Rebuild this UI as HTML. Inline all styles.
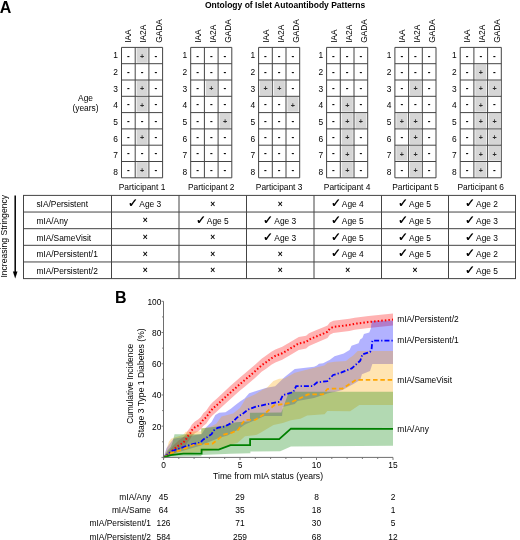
<!DOCTYPE html>
<html><head><meta charset="utf-8"><title>Islet Autoantibody Patterns</title><style>html,body{margin:0;padding:0;background:#fff;overflow:hidden}svg{display:block}</style></head><body>
<svg width="520" height="540" viewBox="0 0 520 540" font-family='"Liberation Sans", Arial, Helvetica, sans-serif'>
<rect width="520" height="540" fill="#fff"/>
<text x="-0.2" y="13.2" font-size="16" font-weight="bold">A</text>
<text x="114.9" y="302.8" font-size="16" font-weight="bold">B</text>
<text x="285.1" y="7.5" font-size="8.5" font-weight="bold" text-anchor="middle">Ontology of Islet Autoantibody Patterns</text>
<rect x="136.60" y="129.50" width="11.10" height="14.80" fill="#d6d6d6"/>
<rect x="136.60" y="48.00" width="11.10" height="14.80" fill="#d6d6d6"/>
<rect x="136.60" y="162.10" width="11.10" height="14.80" fill="#d6d6d6"/>
<rect x="136.60" y="80.60" width="11.10" height="14.80" fill="#d6d6d6"/>
<rect x="136.60" y="96.90" width="11.10" height="14.80" fill="#d6d6d6"/>
<line x1="121.50" y1="47.40" x2="121.50" y2="177.80" stroke="#444" stroke-width="1"/>
<line x1="135.20" y1="47.40" x2="135.20" y2="177.80" stroke="#444" stroke-width="1"/>
<line x1="148.90" y1="47.40" x2="148.90" y2="177.80" stroke="#444" stroke-width="1"/>
<line x1="162.60" y1="47.40" x2="162.60" y2="177.80" stroke="#444" stroke-width="1"/>
<line x1="121.50" y1="47.40" x2="162.60" y2="47.40" stroke="#444" stroke-width="1"/>
<line x1="121.50" y1="63.70" x2="162.60" y2="63.70" stroke="#444" stroke-width="1"/>
<line x1="121.50" y1="80.00" x2="162.60" y2="80.00" stroke="#444" stroke-width="1"/>
<line x1="121.50" y1="96.30" x2="162.60" y2="96.30" stroke="#444" stroke-width="1"/>
<line x1="121.50" y1="112.60" x2="162.60" y2="112.60" stroke="#444" stroke-width="1"/>
<line x1="121.50" y1="128.90" x2="162.60" y2="128.90" stroke="#444" stroke-width="1"/>
<line x1="121.50" y1="145.20" x2="162.60" y2="145.20" stroke="#444" stroke-width="1"/>
<line x1="121.50" y1="161.50" x2="162.60" y2="161.50" stroke="#444" stroke-width="1"/>
<line x1="121.50" y1="177.80" x2="162.60" y2="177.80" stroke="#444" stroke-width="1"/>
<text x="128.35" y="58.55" font-size="8.2" font-weight="bold" text-anchor="middle">-</text>
<text x="128.35" y="74.85" font-size="8.2" font-weight="bold" text-anchor="middle">-</text>
<text x="128.35" y="91.15" font-size="8.2" font-weight="bold" text-anchor="middle">-</text>
<text x="128.35" y="107.45" font-size="8.2" font-weight="bold" text-anchor="middle">-</text>
<text x="128.35" y="123.75" font-size="8.2" font-weight="bold" text-anchor="middle">-</text>
<text x="128.35" y="140.05" font-size="8.2" font-weight="bold" text-anchor="middle">-</text>
<text x="128.35" y="156.35" font-size="8.2" font-weight="bold" text-anchor="middle">-</text>
<text x="128.35" y="172.65" font-size="8.2" font-weight="bold" text-anchor="middle">-</text>
<text x="142.15" y="58.70" font-size="7.2" font-weight="bold" fill="#2a2a2a" text-anchor="middle">+</text>
<text x="142.05" y="74.85" font-size="8.2" font-weight="bold" text-anchor="middle">-</text>
<text x="142.15" y="91.30" font-size="7.2" font-weight="bold" fill="#2a2a2a" text-anchor="middle">+</text>
<text x="142.15" y="107.60" font-size="7.2" font-weight="bold" fill="#2a2a2a" text-anchor="middle">+</text>
<text x="142.05" y="123.75" font-size="8.2" font-weight="bold" text-anchor="middle">-</text>
<text x="142.15" y="140.20" font-size="7.2" font-weight="bold" fill="#2a2a2a" text-anchor="middle">+</text>
<text x="142.05" y="156.35" font-size="8.2" font-weight="bold" text-anchor="middle">-</text>
<text x="142.15" y="172.80" font-size="7.2" font-weight="bold" fill="#2a2a2a" text-anchor="middle">+</text>
<text x="155.75" y="58.55" font-size="8.2" font-weight="bold" text-anchor="middle">-</text>
<text x="155.75" y="74.85" font-size="8.2" font-weight="bold" text-anchor="middle">-</text>
<text x="155.75" y="91.15" font-size="8.2" font-weight="bold" text-anchor="middle">-</text>
<text x="155.75" y="107.45" font-size="8.2" font-weight="bold" text-anchor="middle">-</text>
<text x="155.75" y="123.75" font-size="8.2" font-weight="bold" text-anchor="middle">-</text>
<text x="155.75" y="140.05" font-size="8.2" font-weight="bold" text-anchor="middle">-</text>
<text x="155.75" y="156.35" font-size="8.2" font-weight="bold" text-anchor="middle">-</text>
<text x="155.75" y="172.65" font-size="8.2" font-weight="bold" text-anchor="middle">-</text>
<text x="118.00" y="58.40" font-size="8.4" text-anchor="end">1</text>
<text x="118.00" y="75.06" font-size="8.4" text-anchor="end">2</text>
<text x="118.00" y="91.72" font-size="8.4" text-anchor="end">3</text>
<text x="118.00" y="108.38" font-size="8.4" text-anchor="end">4</text>
<text x="118.00" y="125.04" font-size="8.4" text-anchor="end">5</text>
<text x="118.00" y="141.70" font-size="8.4" text-anchor="end">6</text>
<text x="118.00" y="158.36" font-size="8.4" text-anchor="end">7</text>
<text x="118.00" y="175.02" font-size="8.4" text-anchor="end">8</text>
<text transform="translate(131.40,42.80) rotate(-90)" font-size="8.4">IAA</text>
<text transform="translate(146.40,42.80) rotate(-90)" font-size="8.4">IA2A</text>
<text transform="translate(161.70,42.80) rotate(-90)" font-size="8.4">GADA</text>
<text x="142.05" y="190.00" font-size="8.4" text-anchor="middle">Participant 1</text>
<rect x="219.50" y="113.20" width="11.10" height="14.80" fill="#d6d6d6"/>
<rect x="205.80" y="80.60" width="11.10" height="14.80" fill="#d6d6d6"/>
<line x1="190.70" y1="47.40" x2="190.70" y2="177.80" stroke="#444" stroke-width="1"/>
<line x1="204.40" y1="47.40" x2="204.40" y2="177.80" stroke="#444" stroke-width="1"/>
<line x1="218.10" y1="47.40" x2="218.10" y2="177.80" stroke="#444" stroke-width="1"/>
<line x1="231.80" y1="47.40" x2="231.80" y2="177.80" stroke="#444" stroke-width="1"/>
<line x1="190.70" y1="47.40" x2="231.80" y2="47.40" stroke="#444" stroke-width="1"/>
<line x1="190.70" y1="63.70" x2="231.80" y2="63.70" stroke="#444" stroke-width="1"/>
<line x1="190.70" y1="80.00" x2="231.80" y2="80.00" stroke="#444" stroke-width="1"/>
<line x1="190.70" y1="96.30" x2="231.80" y2="96.30" stroke="#444" stroke-width="1"/>
<line x1="190.70" y1="112.60" x2="231.80" y2="112.60" stroke="#444" stroke-width="1"/>
<line x1="190.70" y1="128.90" x2="231.80" y2="128.90" stroke="#444" stroke-width="1"/>
<line x1="190.70" y1="145.20" x2="231.80" y2="145.20" stroke="#444" stroke-width="1"/>
<line x1="190.70" y1="161.50" x2="231.80" y2="161.50" stroke="#444" stroke-width="1"/>
<line x1="190.70" y1="177.80" x2="231.80" y2="177.80" stroke="#444" stroke-width="1"/>
<text x="197.55" y="58.55" font-size="8.2" font-weight="bold" text-anchor="middle">-</text>
<text x="197.55" y="74.85" font-size="8.2" font-weight="bold" text-anchor="middle">-</text>
<text x="197.55" y="91.15" font-size="8.2" font-weight="bold" text-anchor="middle">-</text>
<text x="197.55" y="107.45" font-size="8.2" font-weight="bold" text-anchor="middle">-</text>
<text x="197.55" y="123.75" font-size="8.2" font-weight="bold" text-anchor="middle">-</text>
<text x="197.55" y="140.05" font-size="8.2" font-weight="bold" text-anchor="middle">-</text>
<text x="197.55" y="156.35" font-size="8.2" font-weight="bold" text-anchor="middle">-</text>
<text x="197.55" y="172.65" font-size="8.2" font-weight="bold" text-anchor="middle">-</text>
<text x="211.25" y="58.55" font-size="8.2" font-weight="bold" text-anchor="middle">-</text>
<text x="211.25" y="74.85" font-size="8.2" font-weight="bold" text-anchor="middle">-</text>
<text x="211.35" y="91.30" font-size="7.2" font-weight="bold" fill="#2a2a2a" text-anchor="middle">+</text>
<text x="211.25" y="107.45" font-size="8.2" font-weight="bold" text-anchor="middle">-</text>
<text x="211.25" y="123.75" font-size="8.2" font-weight="bold" text-anchor="middle">-</text>
<text x="211.25" y="140.05" font-size="8.2" font-weight="bold" text-anchor="middle">-</text>
<text x="211.25" y="156.35" font-size="8.2" font-weight="bold" text-anchor="middle">-</text>
<text x="211.25" y="172.65" font-size="8.2" font-weight="bold" text-anchor="middle">-</text>
<text x="224.95" y="58.55" font-size="8.2" font-weight="bold" text-anchor="middle">-</text>
<text x="224.95" y="74.85" font-size="8.2" font-weight="bold" text-anchor="middle">-</text>
<text x="224.95" y="91.15" font-size="8.2" font-weight="bold" text-anchor="middle">-</text>
<text x="224.95" y="107.45" font-size="8.2" font-weight="bold" text-anchor="middle">-</text>
<text x="225.05" y="123.90" font-size="7.2" font-weight="bold" fill="#2a2a2a" text-anchor="middle">+</text>
<text x="224.95" y="140.05" font-size="8.2" font-weight="bold" text-anchor="middle">-</text>
<text x="224.95" y="156.35" font-size="8.2" font-weight="bold" text-anchor="middle">-</text>
<text x="224.95" y="172.65" font-size="8.2" font-weight="bold" text-anchor="middle">-</text>
<text x="187.20" y="58.40" font-size="8.4" text-anchor="end">1</text>
<text x="187.20" y="75.06" font-size="8.4" text-anchor="end">2</text>
<text x="187.20" y="91.72" font-size="8.4" text-anchor="end">3</text>
<text x="187.20" y="108.38" font-size="8.4" text-anchor="end">4</text>
<text x="187.20" y="125.04" font-size="8.4" text-anchor="end">5</text>
<text x="187.20" y="141.70" font-size="8.4" text-anchor="end">6</text>
<text x="187.20" y="158.36" font-size="8.4" text-anchor="end">7</text>
<text x="187.20" y="175.02" font-size="8.4" text-anchor="end">8</text>
<text transform="translate(200.60,42.80) rotate(-90)" font-size="8.4">IAA</text>
<text transform="translate(215.60,42.80) rotate(-90)" font-size="8.4">IA2A</text>
<text transform="translate(230.90,42.80) rotate(-90)" font-size="8.4">GADA</text>
<text x="211.25" y="190.00" font-size="8.4" text-anchor="middle">Participant 2</text>
<rect x="287.40" y="96.90" width="11.10" height="14.80" fill="#d6d6d6"/>
<rect x="260.00" y="80.60" width="11.10" height="14.80" fill="#d6d6d6"/>
<rect x="273.70" y="80.60" width="11.10" height="14.80" fill="#d6d6d6"/>
<line x1="258.60" y1="47.40" x2="258.60" y2="177.80" stroke="#444" stroke-width="1"/>
<line x1="272.30" y1="47.40" x2="272.30" y2="177.80" stroke="#444" stroke-width="1"/>
<line x1="286.00" y1="47.40" x2="286.00" y2="177.80" stroke="#444" stroke-width="1"/>
<line x1="299.70" y1="47.40" x2="299.70" y2="177.80" stroke="#444" stroke-width="1"/>
<line x1="258.60" y1="47.40" x2="299.70" y2="47.40" stroke="#444" stroke-width="1"/>
<line x1="258.60" y1="63.70" x2="299.70" y2="63.70" stroke="#444" stroke-width="1"/>
<line x1="258.60" y1="80.00" x2="299.70" y2="80.00" stroke="#444" stroke-width="1"/>
<line x1="258.60" y1="96.30" x2="299.70" y2="96.30" stroke="#444" stroke-width="1"/>
<line x1="258.60" y1="112.60" x2="299.70" y2="112.60" stroke="#444" stroke-width="1"/>
<line x1="258.60" y1="128.90" x2="299.70" y2="128.90" stroke="#444" stroke-width="1"/>
<line x1="258.60" y1="145.20" x2="299.70" y2="145.20" stroke="#444" stroke-width="1"/>
<line x1="258.60" y1="161.50" x2="299.70" y2="161.50" stroke="#444" stroke-width="1"/>
<line x1="258.60" y1="177.80" x2="299.70" y2="177.80" stroke="#444" stroke-width="1"/>
<text x="265.45" y="58.55" font-size="8.2" font-weight="bold" text-anchor="middle">-</text>
<text x="265.45" y="74.85" font-size="8.2" font-weight="bold" text-anchor="middle">-</text>
<text x="265.55" y="91.30" font-size="7.2" font-weight="bold" fill="#2a2a2a" text-anchor="middle">+</text>
<text x="265.45" y="107.45" font-size="8.2" font-weight="bold" text-anchor="middle">-</text>
<text x="265.45" y="123.75" font-size="8.2" font-weight="bold" text-anchor="middle">-</text>
<text x="265.45" y="140.05" font-size="8.2" font-weight="bold" text-anchor="middle">-</text>
<text x="265.45" y="156.35" font-size="8.2" font-weight="bold" text-anchor="middle">-</text>
<text x="265.45" y="172.65" font-size="8.2" font-weight="bold" text-anchor="middle">-</text>
<text x="279.15" y="58.55" font-size="8.2" font-weight="bold" text-anchor="middle">-</text>
<text x="279.15" y="74.85" font-size="8.2" font-weight="bold" text-anchor="middle">-</text>
<text x="279.25" y="91.30" font-size="7.2" font-weight="bold" fill="#2a2a2a" text-anchor="middle">+</text>
<text x="279.15" y="107.45" font-size="8.2" font-weight="bold" text-anchor="middle">-</text>
<text x="279.15" y="123.75" font-size="8.2" font-weight="bold" text-anchor="middle">-</text>
<text x="279.15" y="140.05" font-size="8.2" font-weight="bold" text-anchor="middle">-</text>
<text x="279.15" y="156.35" font-size="8.2" font-weight="bold" text-anchor="middle">-</text>
<text x="279.15" y="172.65" font-size="8.2" font-weight="bold" text-anchor="middle">-</text>
<text x="292.85" y="58.55" font-size="8.2" font-weight="bold" text-anchor="middle">-</text>
<text x="292.85" y="74.85" font-size="8.2" font-weight="bold" text-anchor="middle">-</text>
<text x="292.85" y="91.15" font-size="8.2" font-weight="bold" text-anchor="middle">-</text>
<text x="292.95" y="107.60" font-size="7.2" font-weight="bold" fill="#2a2a2a" text-anchor="middle">+</text>
<text x="292.85" y="123.75" font-size="8.2" font-weight="bold" text-anchor="middle">-</text>
<text x="292.85" y="140.05" font-size="8.2" font-weight="bold" text-anchor="middle">-</text>
<text x="292.85" y="156.35" font-size="8.2" font-weight="bold" text-anchor="middle">-</text>
<text x="292.85" y="172.65" font-size="8.2" font-weight="bold" text-anchor="middle">-</text>
<text x="255.10" y="58.40" font-size="8.4" text-anchor="end">1</text>
<text x="255.10" y="75.06" font-size="8.4" text-anchor="end">2</text>
<text x="255.10" y="91.72" font-size="8.4" text-anchor="end">3</text>
<text x="255.10" y="108.38" font-size="8.4" text-anchor="end">4</text>
<text x="255.10" y="125.04" font-size="8.4" text-anchor="end">5</text>
<text x="255.10" y="141.70" font-size="8.4" text-anchor="end">6</text>
<text x="255.10" y="158.36" font-size="8.4" text-anchor="end">7</text>
<text x="255.10" y="175.02" font-size="8.4" text-anchor="end">8</text>
<text transform="translate(268.50,42.80) rotate(-90)" font-size="8.4">IAA</text>
<text transform="translate(283.50,42.80) rotate(-90)" font-size="8.4">IA2A</text>
<text transform="translate(298.80,42.80) rotate(-90)" font-size="8.4">GADA</text>
<text x="279.15" y="190.00" font-size="8.4" text-anchor="middle">Participant 3</text>
<rect x="341.70" y="145.80" width="11.10" height="14.80" fill="#d6d6d6"/>
<rect x="355.40" y="113.20" width="11.10" height="14.80" fill="#d6d6d6"/>
<rect x="341.70" y="113.20" width="11.10" height="14.80" fill="#d6d6d6"/>
<rect x="341.70" y="129.50" width="11.10" height="14.80" fill="#d6d6d6"/>
<rect x="341.70" y="162.10" width="11.10" height="14.80" fill="#d6d6d6"/>
<rect x="341.70" y="96.90" width="11.10" height="14.80" fill="#d6d6d6"/>
<line x1="326.60" y1="47.40" x2="326.60" y2="177.80" stroke="#444" stroke-width="1"/>
<line x1="340.30" y1="47.40" x2="340.30" y2="177.80" stroke="#444" stroke-width="1"/>
<line x1="354.00" y1="47.40" x2="354.00" y2="177.80" stroke="#444" stroke-width="1"/>
<line x1="367.70" y1="47.40" x2="367.70" y2="177.80" stroke="#444" stroke-width="1"/>
<line x1="326.60" y1="47.40" x2="367.70" y2="47.40" stroke="#444" stroke-width="1"/>
<line x1="326.60" y1="63.70" x2="367.70" y2="63.70" stroke="#444" stroke-width="1"/>
<line x1="326.60" y1="80.00" x2="367.70" y2="80.00" stroke="#444" stroke-width="1"/>
<line x1="326.60" y1="96.30" x2="367.70" y2="96.30" stroke="#444" stroke-width="1"/>
<line x1="326.60" y1="112.60" x2="367.70" y2="112.60" stroke="#444" stroke-width="1"/>
<line x1="326.60" y1="128.90" x2="367.70" y2="128.90" stroke="#444" stroke-width="1"/>
<line x1="326.60" y1="145.20" x2="367.70" y2="145.20" stroke="#444" stroke-width="1"/>
<line x1="326.60" y1="161.50" x2="367.70" y2="161.50" stroke="#444" stroke-width="1"/>
<line x1="326.60" y1="177.80" x2="367.70" y2="177.80" stroke="#444" stroke-width="1"/>
<text x="333.45" y="58.55" font-size="8.2" font-weight="bold" text-anchor="middle">-</text>
<text x="333.45" y="74.85" font-size="8.2" font-weight="bold" text-anchor="middle">-</text>
<text x="333.45" y="91.15" font-size="8.2" font-weight="bold" text-anchor="middle">-</text>
<text x="333.45" y="107.45" font-size="8.2" font-weight="bold" text-anchor="middle">-</text>
<text x="333.45" y="123.75" font-size="8.2" font-weight="bold" text-anchor="middle">-</text>
<text x="333.45" y="140.05" font-size="8.2" font-weight="bold" text-anchor="middle">-</text>
<text x="333.45" y="156.35" font-size="8.2" font-weight="bold" text-anchor="middle">-</text>
<text x="333.45" y="172.65" font-size="8.2" font-weight="bold" text-anchor="middle">-</text>
<text x="347.15" y="58.55" font-size="8.2" font-weight="bold" text-anchor="middle">-</text>
<text x="347.15" y="74.85" font-size="8.2" font-weight="bold" text-anchor="middle">-</text>
<text x="347.15" y="91.15" font-size="8.2" font-weight="bold" text-anchor="middle">-</text>
<text x="347.25" y="107.60" font-size="7.2" font-weight="bold" fill="#2a2a2a" text-anchor="middle">+</text>
<text x="347.25" y="123.90" font-size="7.2" font-weight="bold" fill="#2a2a2a" text-anchor="middle">+</text>
<text x="347.25" y="140.20" font-size="7.2" font-weight="bold" fill="#2a2a2a" text-anchor="middle">+</text>
<text x="347.25" y="156.50" font-size="7.2" font-weight="bold" fill="#2a2a2a" text-anchor="middle">+</text>
<text x="347.25" y="172.80" font-size="7.2" font-weight="bold" fill="#2a2a2a" text-anchor="middle">+</text>
<text x="360.85" y="58.55" font-size="8.2" font-weight="bold" text-anchor="middle">-</text>
<text x="360.85" y="74.85" font-size="8.2" font-weight="bold" text-anchor="middle">-</text>
<text x="360.85" y="91.15" font-size="8.2" font-weight="bold" text-anchor="middle">-</text>
<text x="360.85" y="107.45" font-size="8.2" font-weight="bold" text-anchor="middle">-</text>
<text x="360.95" y="123.90" font-size="7.2" font-weight="bold" fill="#2a2a2a" text-anchor="middle">+</text>
<text x="360.85" y="140.05" font-size="8.2" font-weight="bold" text-anchor="middle">-</text>
<text x="360.85" y="156.35" font-size="8.2" font-weight="bold" text-anchor="middle">-</text>
<text x="360.85" y="172.65" font-size="8.2" font-weight="bold" text-anchor="middle">-</text>
<text x="323.10" y="58.40" font-size="8.4" text-anchor="end">1</text>
<text x="323.10" y="75.06" font-size="8.4" text-anchor="end">2</text>
<text x="323.10" y="91.72" font-size="8.4" text-anchor="end">3</text>
<text x="323.10" y="108.38" font-size="8.4" text-anchor="end">4</text>
<text x="323.10" y="125.04" font-size="8.4" text-anchor="end">5</text>
<text x="323.10" y="141.70" font-size="8.4" text-anchor="end">6</text>
<text x="323.10" y="158.36" font-size="8.4" text-anchor="end">7</text>
<text x="323.10" y="175.02" font-size="8.4" text-anchor="end">8</text>
<text transform="translate(336.50,42.80) rotate(-90)" font-size="8.4">IAA</text>
<text transform="translate(351.50,42.80) rotate(-90)" font-size="8.4">IA2A</text>
<text transform="translate(366.80,42.80) rotate(-90)" font-size="8.4">GADA</text>
<text x="347.15" y="190.00" font-size="8.4" text-anchor="middle">Participant 4</text>
<rect x="396.30" y="145.80" width="11.10" height="14.80" fill="#d6d6d6"/>
<rect x="410.00" y="145.80" width="11.10" height="14.80" fill="#d6d6d6"/>
<rect x="396.30" y="113.20" width="11.10" height="14.80" fill="#d6d6d6"/>
<rect x="410.00" y="113.20" width="11.10" height="14.80" fill="#d6d6d6"/>
<rect x="410.00" y="129.50" width="11.10" height="14.80" fill="#d6d6d6"/>
<rect x="410.00" y="162.10" width="11.10" height="14.80" fill="#d6d6d6"/>
<rect x="410.00" y="80.60" width="11.10" height="14.80" fill="#d6d6d6"/>
<line x1="394.90" y1="47.40" x2="394.90" y2="177.80" stroke="#444" stroke-width="1"/>
<line x1="408.60" y1="47.40" x2="408.60" y2="177.80" stroke="#444" stroke-width="1"/>
<line x1="422.30" y1="47.40" x2="422.30" y2="177.80" stroke="#444" stroke-width="1"/>
<line x1="436.00" y1="47.40" x2="436.00" y2="177.80" stroke="#444" stroke-width="1"/>
<line x1="394.90" y1="47.40" x2="436.00" y2="47.40" stroke="#444" stroke-width="1"/>
<line x1="394.90" y1="63.70" x2="436.00" y2="63.70" stroke="#444" stroke-width="1"/>
<line x1="394.90" y1="80.00" x2="436.00" y2="80.00" stroke="#444" stroke-width="1"/>
<line x1="394.90" y1="96.30" x2="436.00" y2="96.30" stroke="#444" stroke-width="1"/>
<line x1="394.90" y1="112.60" x2="436.00" y2="112.60" stroke="#444" stroke-width="1"/>
<line x1="394.90" y1="128.90" x2="436.00" y2="128.90" stroke="#444" stroke-width="1"/>
<line x1="394.90" y1="145.20" x2="436.00" y2="145.20" stroke="#444" stroke-width="1"/>
<line x1="394.90" y1="161.50" x2="436.00" y2="161.50" stroke="#444" stroke-width="1"/>
<line x1="394.90" y1="177.80" x2="436.00" y2="177.80" stroke="#444" stroke-width="1"/>
<text x="401.75" y="58.55" font-size="8.2" font-weight="bold" text-anchor="middle">-</text>
<text x="401.75" y="74.85" font-size="8.2" font-weight="bold" text-anchor="middle">-</text>
<text x="401.75" y="91.15" font-size="8.2" font-weight="bold" text-anchor="middle">-</text>
<text x="401.75" y="107.45" font-size="8.2" font-weight="bold" text-anchor="middle">-</text>
<text x="401.85" y="123.90" font-size="7.2" font-weight="bold" fill="#2a2a2a" text-anchor="middle">+</text>
<text x="401.75" y="140.05" font-size="8.2" font-weight="bold" text-anchor="middle">-</text>
<text x="401.85" y="156.50" font-size="7.2" font-weight="bold" fill="#2a2a2a" text-anchor="middle">+</text>
<text x="401.75" y="172.65" font-size="8.2" font-weight="bold" text-anchor="middle">-</text>
<text x="415.45" y="58.55" font-size="8.2" font-weight="bold" text-anchor="middle">-</text>
<text x="415.45" y="74.85" font-size="8.2" font-weight="bold" text-anchor="middle">-</text>
<text x="415.55" y="91.30" font-size="7.2" font-weight="bold" fill="#2a2a2a" text-anchor="middle">+</text>
<text x="415.45" y="107.45" font-size="8.2" font-weight="bold" text-anchor="middle">-</text>
<text x="415.55" y="123.90" font-size="7.2" font-weight="bold" fill="#2a2a2a" text-anchor="middle">+</text>
<text x="415.55" y="140.20" font-size="7.2" font-weight="bold" fill="#2a2a2a" text-anchor="middle">+</text>
<text x="415.55" y="156.50" font-size="7.2" font-weight="bold" fill="#2a2a2a" text-anchor="middle">+</text>
<text x="415.55" y="172.80" font-size="7.2" font-weight="bold" fill="#2a2a2a" text-anchor="middle">+</text>
<text x="429.15" y="58.55" font-size="8.2" font-weight="bold" text-anchor="middle">-</text>
<text x="429.15" y="74.85" font-size="8.2" font-weight="bold" text-anchor="middle">-</text>
<text x="429.15" y="91.15" font-size="8.2" font-weight="bold" text-anchor="middle">-</text>
<text x="429.15" y="107.45" font-size="8.2" font-weight="bold" text-anchor="middle">-</text>
<text x="429.15" y="123.75" font-size="8.2" font-weight="bold" text-anchor="middle">-</text>
<text x="429.15" y="140.05" font-size="8.2" font-weight="bold" text-anchor="middle">-</text>
<text x="429.15" y="156.35" font-size="8.2" font-weight="bold" text-anchor="middle">-</text>
<text x="429.15" y="172.65" font-size="8.2" font-weight="bold" text-anchor="middle">-</text>
<text x="391.40" y="58.40" font-size="8.4" text-anchor="end">1</text>
<text x="391.40" y="75.06" font-size="8.4" text-anchor="end">2</text>
<text x="391.40" y="91.72" font-size="8.4" text-anchor="end">3</text>
<text x="391.40" y="108.38" font-size="8.4" text-anchor="end">4</text>
<text x="391.40" y="125.04" font-size="8.4" text-anchor="end">5</text>
<text x="391.40" y="141.70" font-size="8.4" text-anchor="end">6</text>
<text x="391.40" y="158.36" font-size="8.4" text-anchor="end">7</text>
<text x="391.40" y="175.02" font-size="8.4" text-anchor="end">8</text>
<text transform="translate(404.80,42.80) rotate(-90)" font-size="8.4">IAA</text>
<text transform="translate(419.80,42.80) rotate(-90)" font-size="8.4">IA2A</text>
<text transform="translate(435.10,42.80) rotate(-90)" font-size="8.4">GADA</text>
<text x="415.45" y="190.00" font-size="8.4" text-anchor="middle">Participant 5</text>
<rect x="475.30" y="64.30" width="11.10" height="14.80" fill="#d6d6d6"/>
<rect x="489.00" y="145.80" width="11.10" height="14.80" fill="#d6d6d6"/>
<rect x="475.30" y="113.20" width="11.10" height="14.80" fill="#d6d6d6"/>
<rect x="475.30" y="162.10" width="11.10" height="14.80" fill="#d6d6d6"/>
<rect x="475.30" y="96.90" width="11.10" height="14.80" fill="#d6d6d6"/>
<rect x="489.00" y="80.60" width="11.10" height="14.80" fill="#d6d6d6"/>
<rect x="475.30" y="145.80" width="11.10" height="14.80" fill="#d6d6d6"/>
<rect x="489.00" y="129.50" width="11.10" height="14.80" fill="#d6d6d6"/>
<rect x="475.30" y="129.50" width="11.10" height="14.80" fill="#d6d6d6"/>
<rect x="489.00" y="113.20" width="11.10" height="14.80" fill="#d6d6d6"/>
<rect x="475.30" y="80.60" width="11.10" height="14.80" fill="#d6d6d6"/>
<line x1="460.20" y1="47.40" x2="460.20" y2="177.80" stroke="#444" stroke-width="1"/>
<line x1="473.90" y1="47.40" x2="473.90" y2="177.80" stroke="#444" stroke-width="1"/>
<line x1="487.60" y1="47.40" x2="487.60" y2="177.80" stroke="#444" stroke-width="1"/>
<line x1="501.30" y1="47.40" x2="501.30" y2="177.80" stroke="#444" stroke-width="1"/>
<line x1="460.20" y1="47.40" x2="501.30" y2="47.40" stroke="#444" stroke-width="1"/>
<line x1="460.20" y1="63.70" x2="501.30" y2="63.70" stroke="#444" stroke-width="1"/>
<line x1="460.20" y1="80.00" x2="501.30" y2="80.00" stroke="#444" stroke-width="1"/>
<line x1="460.20" y1="96.30" x2="501.30" y2="96.30" stroke="#444" stroke-width="1"/>
<line x1="460.20" y1="112.60" x2="501.30" y2="112.60" stroke="#444" stroke-width="1"/>
<line x1="460.20" y1="128.90" x2="501.30" y2="128.90" stroke="#444" stroke-width="1"/>
<line x1="460.20" y1="145.20" x2="501.30" y2="145.20" stroke="#444" stroke-width="1"/>
<line x1="460.20" y1="161.50" x2="501.30" y2="161.50" stroke="#444" stroke-width="1"/>
<line x1="460.20" y1="177.80" x2="501.30" y2="177.80" stroke="#444" stroke-width="1"/>
<text x="467.05" y="58.55" font-size="8.2" font-weight="bold" text-anchor="middle">-</text>
<text x="467.05" y="74.85" font-size="8.2" font-weight="bold" text-anchor="middle">-</text>
<text x="467.05" y="91.15" font-size="8.2" font-weight="bold" text-anchor="middle">-</text>
<text x="467.05" y="107.45" font-size="8.2" font-weight="bold" text-anchor="middle">-</text>
<text x="467.05" y="123.75" font-size="8.2" font-weight="bold" text-anchor="middle">-</text>
<text x="467.05" y="140.05" font-size="8.2" font-weight="bold" text-anchor="middle">-</text>
<text x="467.05" y="156.35" font-size="8.2" font-weight="bold" text-anchor="middle">-</text>
<text x="467.05" y="172.65" font-size="8.2" font-weight="bold" text-anchor="middle">-</text>
<text x="480.75" y="58.55" font-size="8.2" font-weight="bold" text-anchor="middle">-</text>
<text x="480.85" y="75.00" font-size="7.2" font-weight="bold" fill="#2a2a2a" text-anchor="middle">+</text>
<text x="480.85" y="91.30" font-size="7.2" font-weight="bold" fill="#2a2a2a" text-anchor="middle">+</text>
<text x="480.85" y="107.60" font-size="7.2" font-weight="bold" fill="#2a2a2a" text-anchor="middle">+</text>
<text x="480.85" y="123.90" font-size="7.2" font-weight="bold" fill="#2a2a2a" text-anchor="middle">+</text>
<text x="480.85" y="140.20" font-size="7.2" font-weight="bold" fill="#2a2a2a" text-anchor="middle">+</text>
<text x="480.85" y="156.50" font-size="7.2" font-weight="bold" fill="#2a2a2a" text-anchor="middle">+</text>
<text x="480.85" y="172.80" font-size="7.2" font-weight="bold" fill="#2a2a2a" text-anchor="middle">+</text>
<text x="494.45" y="58.55" font-size="8.2" font-weight="bold" text-anchor="middle">-</text>
<text x="494.45" y="74.85" font-size="8.2" font-weight="bold" text-anchor="middle">-</text>
<text x="494.55" y="91.30" font-size="7.2" font-weight="bold" fill="#2a2a2a" text-anchor="middle">+</text>
<text x="494.45" y="107.45" font-size="8.2" font-weight="bold" text-anchor="middle">-</text>
<text x="494.55" y="123.90" font-size="7.2" font-weight="bold" fill="#2a2a2a" text-anchor="middle">+</text>
<text x="494.55" y="140.20" font-size="7.2" font-weight="bold" fill="#2a2a2a" text-anchor="middle">+</text>
<text x="494.55" y="156.50" font-size="7.2" font-weight="bold" fill="#2a2a2a" text-anchor="middle">+</text>
<text x="494.45" y="172.65" font-size="8.2" font-weight="bold" text-anchor="middle">-</text>
<text x="456.70" y="58.40" font-size="8.4" text-anchor="end">1</text>
<text x="456.70" y="75.06" font-size="8.4" text-anchor="end">2</text>
<text x="456.70" y="91.72" font-size="8.4" text-anchor="end">3</text>
<text x="456.70" y="108.38" font-size="8.4" text-anchor="end">4</text>
<text x="456.70" y="125.04" font-size="8.4" text-anchor="end">5</text>
<text x="456.70" y="141.70" font-size="8.4" text-anchor="end">6</text>
<text x="456.70" y="158.36" font-size="8.4" text-anchor="end">7</text>
<text x="456.70" y="175.02" font-size="8.4" text-anchor="end">8</text>
<text transform="translate(470.10,42.80) rotate(-90)" font-size="8.4">IAA</text>
<text transform="translate(485.10,42.80) rotate(-90)" font-size="8.4">IA2A</text>
<text transform="translate(500.40,42.80) rotate(-90)" font-size="8.4">GADA</text>
<text x="480.75" y="190.00" font-size="8.4" text-anchor="middle">Participant 6</text>
<text x="85.5" y="101.4" font-size="8.4" text-anchor="middle">Age</text>
<text x="85.5" y="110.9" font-size="8.4" text-anchor="middle">(years)</text>
<rect x="23.5" y="195.4" width="492.0" height="83.20" fill="none" stroke="#444" stroke-width="1"/>
<line x1="23.5" y1="212.04" x2="515.5" y2="212.04" stroke="#444" stroke-width="1"/>
<line x1="23.5" y1="228.68" x2="515.5" y2="228.68" stroke="#444" stroke-width="1"/>
<line x1="23.5" y1="245.32" x2="515.5" y2="245.32" stroke="#444" stroke-width="1"/>
<line x1="23.5" y1="261.96" x2="515.5" y2="261.96" stroke="#444" stroke-width="1"/>
<line x1="111.5" y1="195.4" x2="111.5" y2="278.60" stroke="#444" stroke-width="1"/>
<line x1="179.0" y1="195.4" x2="179.0" y2="278.60" stroke="#444" stroke-width="1"/>
<line x1="246.5" y1="195.4" x2="246.5" y2="278.60" stroke="#444" stroke-width="1"/>
<line x1="314.0" y1="195.4" x2="314.0" y2="278.60" stroke="#444" stroke-width="1"/>
<line x1="381.5" y1="195.4" x2="381.5" y2="278.60" stroke="#444" stroke-width="1"/>
<line x1="448.5" y1="195.4" x2="448.5" y2="278.60" stroke="#444" stroke-width="1"/>
<text x="36.4" y="207.42" font-size="8.4">sIA/Persistent</text>
<text x="144.65" y="207.42" font-size="8.4" text-anchor="middle"><tspan font-size="11.5" font-weight="bold">✓</tspan><tspan font-size="4.5"> </tspan>Age 3</text>
<text x="212.65" y="206.72" font-size="8.4" font-weight="bold" text-anchor="middle">×</text>
<text x="280.15" y="206.72" font-size="8.4" font-weight="bold" text-anchor="middle">×</text>
<text x="347.15" y="207.42" font-size="8.4" text-anchor="middle"><tspan font-size="11.5" font-weight="bold">✓</tspan><tspan font-size="4.5"> </tspan>Age 4</text>
<text x="414.40" y="207.42" font-size="8.4" text-anchor="middle"><tspan font-size="11.5" font-weight="bold">✓</tspan><tspan font-size="4.5"> </tspan>Age 5</text>
<text x="481.40" y="207.42" font-size="8.4" text-anchor="middle"><tspan font-size="11.5" font-weight="bold">✓</tspan><tspan font-size="4.5"> </tspan>Age 2</text>
<text x="36.4" y="224.06" font-size="8.4">mIA/Any</text>
<text x="145.15" y="223.36" font-size="8.4" font-weight="bold" text-anchor="middle">×</text>
<text x="212.15" y="224.06" font-size="8.4" text-anchor="middle"><tspan font-size="11.5" font-weight="bold">✓</tspan><tspan font-size="4.5"> </tspan>Age 5</text>
<text x="279.65" y="224.06" font-size="8.4" text-anchor="middle"><tspan font-size="11.5" font-weight="bold">✓</tspan><tspan font-size="4.5"> </tspan>Age 3</text>
<text x="347.15" y="224.06" font-size="8.4" text-anchor="middle"><tspan font-size="11.5" font-weight="bold">✓</tspan><tspan font-size="4.5"> </tspan>Age 5</text>
<text x="414.40" y="224.06" font-size="8.4" text-anchor="middle"><tspan font-size="11.5" font-weight="bold">✓</tspan><tspan font-size="4.5"> </tspan>Age 5</text>
<text x="481.40" y="224.06" font-size="8.4" text-anchor="middle"><tspan font-size="11.5" font-weight="bold">✓</tspan><tspan font-size="4.5"> </tspan>Age 3</text>
<text x="36.4" y="240.70" font-size="8.4">mIA/SameVisit</text>
<text x="145.15" y="240.00" font-size="8.4" font-weight="bold" text-anchor="middle">×</text>
<text x="212.65" y="240.00" font-size="8.4" font-weight="bold" text-anchor="middle">×</text>
<text x="279.65" y="240.70" font-size="8.4" text-anchor="middle"><tspan font-size="11.5" font-weight="bold">✓</tspan><tspan font-size="4.5"> </tspan>Age 3</text>
<text x="347.15" y="240.70" font-size="8.4" text-anchor="middle"><tspan font-size="11.5" font-weight="bold">✓</tspan><tspan font-size="4.5"> </tspan>Age 5</text>
<text x="414.40" y="240.70" font-size="8.4" text-anchor="middle"><tspan font-size="11.5" font-weight="bold">✓</tspan><tspan font-size="4.5"> </tspan>Age 5</text>
<text x="481.40" y="240.70" font-size="8.4" text-anchor="middle"><tspan font-size="11.5" font-weight="bold">✓</tspan><tspan font-size="4.5"> </tspan>Age 3</text>
<text x="36.4" y="257.34" font-size="8.4">mIA/Persistent/1</text>
<text x="145.15" y="256.64" font-size="8.4" font-weight="bold" text-anchor="middle">×</text>
<text x="212.65" y="256.64" font-size="8.4" font-weight="bold" text-anchor="middle">×</text>
<text x="280.15" y="256.64" font-size="8.4" font-weight="bold" text-anchor="middle">×</text>
<text x="347.15" y="257.34" font-size="8.4" text-anchor="middle"><tspan font-size="11.5" font-weight="bold">✓</tspan><tspan font-size="4.5"> </tspan>Age 4</text>
<text x="414.40" y="257.34" font-size="8.4" text-anchor="middle"><tspan font-size="11.5" font-weight="bold">✓</tspan><tspan font-size="4.5"> </tspan>Age 5</text>
<text x="481.40" y="257.34" font-size="8.4" text-anchor="middle"><tspan font-size="11.5" font-weight="bold">✓</tspan><tspan font-size="4.5"> </tspan>Age 2</text>
<text x="36.4" y="273.98" font-size="8.4">mIA/Persistent/2</text>
<text x="145.15" y="273.28" font-size="8.4" font-weight="bold" text-anchor="middle">×</text>
<text x="212.65" y="273.28" font-size="8.4" font-weight="bold" text-anchor="middle">×</text>
<text x="280.15" y="273.28" font-size="8.4" font-weight="bold" text-anchor="middle">×</text>
<text x="347.65" y="273.28" font-size="8.4" font-weight="bold" text-anchor="middle">×</text>
<text x="414.90" y="273.28" font-size="8.4" font-weight="bold" text-anchor="middle">×</text>
<text x="481.40" y="273.98" font-size="8.4" text-anchor="middle"><tspan font-size="11.5" font-weight="bold">✓</tspan><tspan font-size="4.5"> </tspan>Age 5</text>
<text transform="translate(6.9,277.6) rotate(-90)" font-size="8.6">Increasing Stringency</text>
<line x1="15.2" y1="195.5" x2="15.2" y2="273" stroke="#000" stroke-width="1.5"/>
<path d="M12.9,271.5 L17.5,271.5 L15.2,278.5 Z" fill="#000"/>
<polygon points="163.50,457.40 168.09,451.94 172.68,446.22 178.80,440.23 182.62,437.71 185.38,434.93 187.52,431.09 190.12,427.85 191.65,424.65 194.87,421.38 198.08,419.52 200.83,416.90 203.28,413.35 206.19,410.87 208.18,407.82 210.32,404.64 212.92,401.98 216.13,399.17 221.49,394.18 230.82,385.59 240.00,377.48 244.13,374.04 255.30,364.52 261.57,358.74 266.16,355.62 271.37,351.72 275.34,349.38 282.23,346.73 289.11,342.69 298.75,337.00 306.10,335.65 309.00,333.18 316.50,330.12 324.00,327.06 327.52,325.52 329.81,322.42 333.33,320.73 341.29,319.86 349.39,318.81 354.75,317.72 368.52,316.00 380.76,314.76 393.00,313.51 393.00,325.62 380.76,326.87 368.52,328.12 354.75,329.84 349.39,330.93 341.29,332.07 333.33,333.07 329.81,334.82 327.52,337.96 324.00,339.55 316.50,342.73 309.00,345.91 306.10,348.43 298.75,349.90 289.11,355.75 282.23,359.84 275.34,362.49 271.37,364.83 266.16,368.74 261.57,371.86 255.30,377.63 244.13,387.15 240.00,390.59 230.82,398.71 221.49,407.29 216.13,412.29 212.92,415.10 210.32,417.75 208.18,420.82 206.19,423.69 203.28,425.90 200.83,429.22 198.08,431.59 194.87,433.16 191.65,436.14 190.12,439.19 187.52,442.19 185.38,445.84 182.62,448.37 178.80,450.53 172.68,454.53 168.09,456.62 163.50,457.40" fill="#ff0000" fill-opacity="0.3" stroke="none"/>
<polygon points="163.50,457.40 166.56,448.03 173.44,438.67 201.75,433.98 205.42,428.05 211.54,421.97 215.37,414.94 219.19,412.76 225.47,412.29 230.82,408.85 235.41,404.95 240.00,401.52 244.59,398.39 249.18,393.24 256.06,391.06 266.62,387.78 275.19,386.37 284.37,377.32 294.77,369.05 314.05,366.86 316.96,365.46 318.95,363.74 323.08,363.27 329.96,359.84 334.55,356.25 343.73,353.44 349.55,350.00 351.54,345.79 358.58,343.13 360.11,339.54 362.40,337.98 363.93,334.08 369.28,332.52 370.82,328.62 371.73,320.97 393.00,320.50 393.00,364.05 372.35,364.05 370.05,371.08 361.94,374.35 360.26,379.66 354.75,383.25 342.51,389.96 334.86,391.99 332.57,392.15 327.36,393.56 314.05,398.08 297.68,401.05 294.77,404.01 282.84,406.98 282.07,415.88 264.79,415.88 251.93,421.50 245.05,424.62 237.40,429.93 227.45,435.39 219.65,437.73 212.00,440.85 200.22,445.69 171.15,454.28 163.50,457.40" fill="#0000ff" fill-opacity="0.3" stroke="none"/>
<polygon points="163.50,457.40 166.56,449.59 168.85,441.79 171.15,438.67 174.52,437.42 178.80,436.33 183.39,434.77 185.69,431.64 201.29,431.18 201.29,428.37 209.40,427.27 216.28,423.84 221.49,416.50 233.12,413.54 240.00,408.07 245.81,398.55 255.30,394.18 262.95,389.50 266.62,387.94 273.35,381.07 279.17,378.73 284.37,378.41 294.77,372.79 309.46,369.05 324.30,365.46 327.67,362.65 334.86,361.71 346.03,360.93 349.55,358.12 353.22,355.47 357.66,351.10 393.00,350.94 393.00,404.95 359.34,404.95 350.16,411.19 327.36,411.04 324.61,414.16 307.17,415.57 300.44,418.84 290.95,420.25 282.84,423.06 273.51,424.93 260.04,433.05 256.83,434.77 251.93,435.39 245.05,436.17 237.40,443.04 230.51,444.60 212.00,450.38 200.07,451.94 172.68,455.06 163.50,457.40" fill="#ffa500" fill-opacity="0.3" stroke="none"/>
<polygon points="163.50,457.40 167.63,450.38 170.69,447.10 172.68,441.79 174.52,434.14 201.29,434.14 201.29,428.52 205.42,428.05 223.17,425.87 236.18,422.28 249.94,421.18 249.94,412.76 281.31,412.44 288.96,391.68 393.00,391.68 393.00,445.69 290.95,446.47 280.24,451.31 250.40,451.62 250.40,453.34 230.82,453.65 201.44,455.06 201.44,456.31 169.62,456.78 163.50,457.40" fill="#008000" fill-opacity="0.3" stroke="none"/>
<polyline points="163.50,457.40 168.09,454.28 172.68,450.38 178.80,445.38 182.62,443.04 185.38,440.39 187.52,436.64 190.12,433.52 191.65,430.39 194.87,427.27 198.08,425.56 200.83,423.06 203.28,419.62 206.19,417.28 208.18,414.32 210.32,411.19 212.92,408.54 216.13,405.73 221.49,400.74 230.82,392.15 240.00,384.03 244.13,380.60 255.30,371.08 261.57,365.30 266.16,362.18 271.37,358.28 275.34,355.93 282.23,353.28 289.11,349.22 298.75,343.45 306.10,342.04 309.00,339.54 316.50,336.42 324.00,333.30 327.52,331.74 329.81,328.62 333.33,326.90 341.29,325.96 349.39,324.87 354.75,323.78 368.52,322.06 380.76,320.81 393.00,319.56" fill="none" stroke="#ff0000" stroke-width="2.0" stroke-dasharray="1.5 2.1"/>
<polyline points="163.50,457.40 172.07,451.00 184.16,446.79 193.64,443.82 200.07,442.73 203.13,439.60 206.95,437.26 211.54,434.14 213.84,430.39 217.66,427.74 224.55,426.49 227.76,424.93 232.35,422.28 236.18,418.38 239.24,415.72 242.14,414.32 248.26,409.48 256.52,406.36 260.04,405.89 268.00,404.01 279.78,401.67 282.84,395.12 293.24,392.15 296.15,386.22 312.52,386.22 316.96,382.47 327.36,381.07 333.18,374.98 339.14,373.26 340.98,372.64 351.69,368.42 360.26,360.62 362.40,354.37 370.05,351.88 371.58,349.22 372.35,340.64 393.00,340.64" fill="none" stroke="#0000ff" stroke-width="1.8" stroke-dasharray="5 2 1.3 2"/>
<polyline points="163.50,457.40 172.22,452.56 179.87,450.38 187.98,447.25 194.87,444.44 204.66,444.13 212.61,443.51 217.66,439.60 223.78,434.61 231.89,432.74 238.47,429.61 240.92,425.09 245.05,419.94 254.99,419.94 259.89,416.81 264.94,413.54 273.97,405.42 288.65,403.23 302.12,397.30 308.09,394.34 322.93,394.34 327.36,389.03 332.57,388.56 342.51,388.56 355.82,379.97 393.00,379.97" fill="none" stroke="#ffa500" stroke-width="1.8" stroke-dasharray="4.5 2.8"/>
<polyline points="163.50,457.40 170.69,455.21 178.80,454.12 183.39,453.65 201.60,453.50 201.60,449.59 218.58,449.59 230.51,445.07 250.10,445.07 250.10,439.14 279.17,439.14 290.95,428.68 393.00,428.83" fill="none" stroke="#008000" stroke-width="1.8" />
<line x1="163.5" y1="301.30" x2="163.5" y2="457.4" stroke="#6e6e6e" stroke-width="1"/>
<line x1="163.5" y1="457.4" x2="393.00" y2="457.4" stroke="#6e6e6e" stroke-width="1"/>
<line x1="161.50" y1="457.40" x2="163.5" y2="457.40" stroke="#6e6e6e" stroke-width="0.9"/>
<line x1="162.10" y1="441.79" x2="163.5" y2="441.79" stroke="#6e6e6e" stroke-width="0.9"/>
<line x1="161.50" y1="426.18" x2="163.5" y2="426.18" stroke="#6e6e6e" stroke-width="0.9"/>
<text x="161.40" y="429.68" font-size="8.4" text-anchor="end">20</text>
<line x1="162.10" y1="410.57" x2="163.5" y2="410.57" stroke="#6e6e6e" stroke-width="0.9"/>
<line x1="161.50" y1="394.96" x2="163.5" y2="394.96" stroke="#6e6e6e" stroke-width="0.9"/>
<text x="161.40" y="398.46" font-size="8.4" text-anchor="end">40</text>
<line x1="162.10" y1="379.35" x2="163.5" y2="379.35" stroke="#6e6e6e" stroke-width="0.9"/>
<line x1="161.50" y1="363.74" x2="163.5" y2="363.74" stroke="#6e6e6e" stroke-width="0.9"/>
<text x="161.40" y="367.24" font-size="8.4" text-anchor="end">60</text>
<line x1="162.10" y1="348.13" x2="163.5" y2="348.13" stroke="#6e6e6e" stroke-width="0.9"/>
<line x1="161.50" y1="332.52" x2="163.5" y2="332.52" stroke="#6e6e6e" stroke-width="0.9"/>
<text x="161.40" y="336.02" font-size="8.4" text-anchor="end">80</text>
<line x1="162.10" y1="316.91" x2="163.5" y2="316.91" stroke="#6e6e6e" stroke-width="0.9"/>
<line x1="161.50" y1="301.30" x2="163.5" y2="301.30" stroke="#6e6e6e" stroke-width="0.9"/>
<text x="161.40" y="304.80" font-size="8.4" text-anchor="end">100</text>
<line x1="163.50" y1="457.4" x2="163.50" y2="460.00" stroke="#6e6e6e" stroke-width="0.9"/>
<line x1="178.80" y1="457.4" x2="178.80" y2="459.00" stroke="#6e6e6e" stroke-width="0.9"/>
<line x1="194.10" y1="457.4" x2="194.10" y2="459.00" stroke="#6e6e6e" stroke-width="0.9"/>
<line x1="209.40" y1="457.4" x2="209.40" y2="459.00" stroke="#6e6e6e" stroke-width="0.9"/>
<line x1="224.70" y1="457.4" x2="224.70" y2="459.00" stroke="#6e6e6e" stroke-width="0.9"/>
<line x1="240.00" y1="457.4" x2="240.00" y2="460.00" stroke="#6e6e6e" stroke-width="0.9"/>
<line x1="255.30" y1="457.4" x2="255.30" y2="459.00" stroke="#6e6e6e" stroke-width="0.9"/>
<line x1="270.60" y1="457.4" x2="270.60" y2="459.00" stroke="#6e6e6e" stroke-width="0.9"/>
<line x1="285.90" y1="457.4" x2="285.90" y2="459.00" stroke="#6e6e6e" stroke-width="0.9"/>
<line x1="301.20" y1="457.4" x2="301.20" y2="459.00" stroke="#6e6e6e" stroke-width="0.9"/>
<line x1="316.50" y1="457.4" x2="316.50" y2="460.00" stroke="#6e6e6e" stroke-width="0.9"/>
<line x1="331.80" y1="457.4" x2="331.80" y2="459.00" stroke="#6e6e6e" stroke-width="0.9"/>
<line x1="347.10" y1="457.4" x2="347.10" y2="459.00" stroke="#6e6e6e" stroke-width="0.9"/>
<line x1="362.40" y1="457.4" x2="362.40" y2="459.00" stroke="#6e6e6e" stroke-width="0.9"/>
<line x1="377.70" y1="457.4" x2="377.70" y2="459.00" stroke="#6e6e6e" stroke-width="0.9"/>
<line x1="393.00" y1="457.4" x2="393.00" y2="460.00" stroke="#6e6e6e" stroke-width="0.9"/>
<text x="163.50" y="467.7" font-size="8.4" text-anchor="middle">0</text>
<text x="240.00" y="467.7" font-size="8.4" text-anchor="middle">5</text>
<text x="316.50" y="467.7" font-size="8.4" text-anchor="middle">10</text>
<text x="393.00" y="467.7" font-size="8.4" text-anchor="middle">15</text>
<text x="268.05" y="479.2" font-size="8.6" text-anchor="middle">Time from mIA status (years)</text>
<text transform="translate(133.4,383.8) rotate(-90)" font-size="8.4" text-anchor="middle">Cumulative Incidence</text>
<text transform="translate(143.6,383.2) rotate(-90)" font-size="8.6" text-anchor="middle">Stage 3 Type 1 Diabetes (%)</text>
<text x="397.2" y="321.70" font-size="8.4">mIA/Persistent/2</text>
<text x="397.2" y="343.40" font-size="8.4">mIA/Persistent/1</text>
<text x="397.2" y="383.40" font-size="8.4">mIA/SameVisit</text>
<text x="397.2" y="431.60" font-size="8.4">mIA/Any</text>
<text x="151" y="499.60" font-size="8.4" text-anchor="end">mIA/Any</text>
<text x="163.50" y="499.60" font-size="8.4" text-anchor="middle">45</text>
<text x="240.00" y="499.60" font-size="8.4" text-anchor="middle">29</text>
<text x="316.50" y="499.60" font-size="8.4" text-anchor="middle">8</text>
<text x="393.00" y="499.60" font-size="8.4" text-anchor="middle">2</text>
<text x="151" y="512.90" font-size="8.4" text-anchor="end">mIA/Same</text>
<text x="163.50" y="512.90" font-size="8.4" text-anchor="middle">64</text>
<text x="240.00" y="512.90" font-size="8.4" text-anchor="middle">35</text>
<text x="316.50" y="512.90" font-size="8.4" text-anchor="middle">18</text>
<text x="393.00" y="512.90" font-size="8.4" text-anchor="middle">1</text>
<text x="151" y="526.20" font-size="8.4" text-anchor="end">mIA/Persistent/1</text>
<text x="163.50" y="526.20" font-size="8.4" text-anchor="middle">126</text>
<text x="240.00" y="526.20" font-size="8.4" text-anchor="middle">71</text>
<text x="316.50" y="526.20" font-size="8.4" text-anchor="middle">30</text>
<text x="393.00" y="526.20" font-size="8.4" text-anchor="middle">5</text>
<text x="151" y="539.50" font-size="8.4" text-anchor="end">mIA/Persistent/2</text>
<text x="163.50" y="539.50" font-size="8.4" text-anchor="middle">584</text>
<text x="240.00" y="539.50" font-size="8.4" text-anchor="middle">259</text>
<text x="316.50" y="539.50" font-size="8.4" text-anchor="middle">68</text>
<text x="393.00" y="539.50" font-size="8.4" text-anchor="middle">12</text>
</svg>
</body></html>
